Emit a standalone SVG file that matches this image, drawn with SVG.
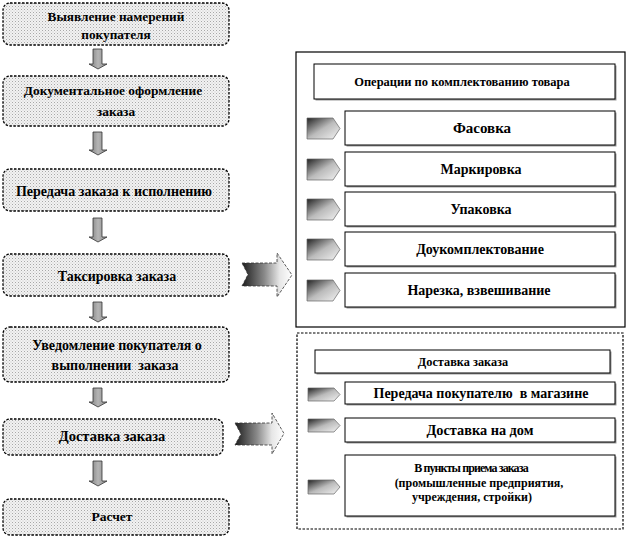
<svg xmlns="http://www.w3.org/2000/svg" width="628" height="538" viewBox="0 0 628 538">
<defs>
<pattern id="dots" width="3" height="3" patternUnits="userSpaceOnUse">
<rect width="3" height="3" fill="#f2f2f2"/>
<rect width="1" height="1" fill="#a8a8a8"/>
<rect x="1.5" y="1.5" width="1" height="1" fill="#c8c8c8"/>
</pattern>
<linearGradient id="bigGrad" x1="0" y1="0" x2="1" y2="0">
<stop offset="0" stop-color="#1e1e1e"/>
<stop offset="0.45" stop-color="#8a8a8a"/>
<stop offset="0.75" stop-color="#e6e6e6"/>
<stop offset="1" stop-color="#ffffff"/>
</linearGradient>
<linearGradient id="smallGrad" x1="0" y1="0" x2="1" y2="1">
<stop offset="0" stop-color="#222"/>
<stop offset="0.5" stop-color="#bbb"/>
<stop offset="1" stop-color="#f4f4f4"/>
</linearGradient>
<linearGradient id="downGrad" x1="0" y1="0" x2="1" y2="0">
<stop offset="0" stop-color="#777"/>
<stop offset="0.5" stop-color="#b5b5b5"/>
<stop offset="1" stop-color="#888"/>
</linearGradient>
</defs>
<style>
.step{fill:url(#dots);stroke:#000;stroke-width:1.3;stroke-dasharray:2.5 1.5}
.t{font-family:"Liberation Serif","Times New Roman",serif;font-weight:bold;font-size:14px;fill:#000;text-anchor:middle}
.ts{font-size:12.5px}
.box{fill:#fff;stroke:#000;stroke-width:1}
.shadow{fill:#9a9a9a}
.down{fill:url(#downGrad);stroke:#333;stroke-width:0.8}
.big{fill:url(#bigGrad);stroke:#333;stroke-width:0.8;stroke-dasharray:3 1.5}
.small{fill:url(#smallGrad);stroke:#666;stroke-width:0.7}
</style>

<g id="connectors">
<path class="down" d="M93,49 H102 V64 H107 L98,69 L89,64 H93 Z"/>
<path class="down" d="M93,132 H102 V150 H107 L98,155 L89,150 H93 Z"/>
<path class="down" d="M93,218 H102 V237 H107 L98,242 L89,237 H93 Z"/>
<path class="down" d="M93,302 H102 V317 H107 L98,322 L89,317 H93 Z"/>
<path class="down" d="M93,388 H102 V402 H107 L98,407 L89,402 H93 Z"/>
<path class="down" d="M93,461 H102 V481 H107 L98,486 L89,481 H93 Z"/>
<path class="big" d="M242,263 H277 V253 L292,275 L277,297 V286 H242 L248,274.5 Z"/>
<path class="big" d="M235,423 H272 V413 L284,433.5 L272,454 V445 H235 L241,434 Z"/>
</g>

<g id="step1"><rect class="step" x="3" y="3" width="226" height="42" rx="7"/>
<text class="t" x="116" y="21" style="font-size:13.3px">Выявление намерений</text><text class="t" x="116" y="39" style="font-size:13.3px">покупателя</text></g>
<g id="step2"><rect class="step" x="3" y="76" width="226" height="50" rx="7"/>
<text class="t" x="113" y="95" style="font-size:13.4px">Документальное оформление</text><text class="t" x="116" y="116" style="font-size:13.4px">заказа</text></g>
<g id="step3"><rect class="step" x="3" y="169" width="226" height="42" rx="7"/>
<text class="t" x="114" y="196">Передача заказа к исполнению</text></g>
<g id="step4"><rect class="step" x="3" y="254" width="226" height="42" rx="7"/>
<text class="t" x="117" y="281">Таксировка заказа</text></g>
<g id="step5"><rect class="step" x="3" y="327" width="226" height="55" rx="7"/>
<text class="t" x="117" y="350">Уведомление покупателя о</text><text class="t" x="115" y="370" xml:space="preserve">выполнении  заказа</text></g>
<g id="step6"><rect class="step" x="3" y="419" width="220" height="36" rx="7"/>
<text class="t" x="112" y="441" style="font-size:14.5px">Доставка заказа</text></g>
<g id="step7"><rect class="step" x="3" y="499" width="226" height="36" rx="7"/>
<text class="t" x="112" y="521" style="font-size:13.5px">Расчет</text></g>

<g id="ops">
<rect x="296" y="52" width="329" height="275" fill="#fff" stroke="#000" stroke-width="1.2"/>
<g id="ops-header"><rect class="shadow" x="315.5" y="65.5" width="301" height="35"/><rect class="box" x="314" y="64" width="301" height="35"/>
<text class="t ts" x="462" y="86">Операции по комплектованию товара</text></g>
<g id="op1"><path class="small" d="M307,118 H333 L340,128.5 L333,139 H307 Z"/><rect class="shadow" x="346.5" y="112.5" width="270" height="34"/><rect class="box" x="345" y="111" width="270" height="34"/>
<text class="t" x="482" y="133" style="font-size:15px">Фасовка</text></g>
<g id="op2"><path class="small" d="M307,159 H333 L340,169.5 L333,180 H307 Z"/><rect class="shadow" x="346.5" y="153.5" width="270" height="34"/><rect class="box" x="345" y="152" width="270" height="34"/>
<text class="t" x="481" y="174">Маркировка</text></g>
<g id="op3"><path class="small" d="M307,199 H333 L340,209.5 L333,220 H307 Z"/><rect class="shadow" x="346.5" y="193.5" width="270" height="34"/><rect class="box" x="345" y="192" width="270" height="34"/>
<text class="t" x="481" y="214">Упаковка</text></g>
<g id="op4"><path class="small" d="M307,239 H333 L340,249.5 L333,260 H307 Z"/><rect class="shadow" x="346.5" y="233.5" width="270" height="34"/><rect class="box" x="345" y="232" width="270" height="34"/>
<text class="t" x="480" y="254">Доукомплектование</text></g>
<g id="op5"><path class="small" d="M307,280 H333 L340,290.5 L333,301 H307 Z"/><rect class="shadow" x="346.5" y="274.5" width="270" height="34"/><rect class="box" x="345" y="273" width="270" height="34"/>
<text class="t" x="479" y="295">Нарезка, взвешивание</text></g>
</g>

<g id="delivery">
<rect x="297" y="333" width="326" height="196" fill="#fff" stroke="#000" stroke-width="1.2" stroke-dasharray="2.5 1.5"/>
<g id="del-header"><rect class="shadow" x="316.5" y="351.5" width="295" height="23"/><rect class="box" x="315" y="350" width="295" height="23"/>
<text class="t" x="463" y="366" style="font-size:12.3px">Доставка заказа</text></g>
<g id="del1"><path class="small" d="M308,388 H334 L340,394.5 L334,401 H308 Z"/><rect class="shadow" x="346.5" y="383.5" width="270" height="22"/><rect class="box" x="345" y="382" width="270" height="22"/>
<text class="t" x="481" y="398" xml:space="preserve">Передача покупателю  в магазине</text></g>
<g id="del2"><path class="small" d="M308,419 H334 L340,425.5 L334,432 H308 Z"/><rect class="shadow" x="346.5" y="419.5" width="270" height="24"/><rect class="box" x="345" y="418" width="270" height="24"/>
<text class="t" x="480" y="435" style="font-size:14.3px">Доставка на дом</text></g>
<g id="del3"><path class="small" d="M308,480 H334 L340,487 L334,494 H308 Z"/><rect class="shadow" x="346.5" y="456.5" width="270" height="61"/><rect class="box" x="345" y="455" width="270" height="61"/>
<text class="t" x="471" y="472" style="font-size:12px;letter-spacing:-0.9px">В пункты приема заказа</text>
<text class="t" x="479" y="487" style="font-size:12px">(промышленные предприятия,</text>
<text class="t" x="472" y="501" style="font-size:12px">учреждения, стройки)</text></g>
</g>
</svg>
